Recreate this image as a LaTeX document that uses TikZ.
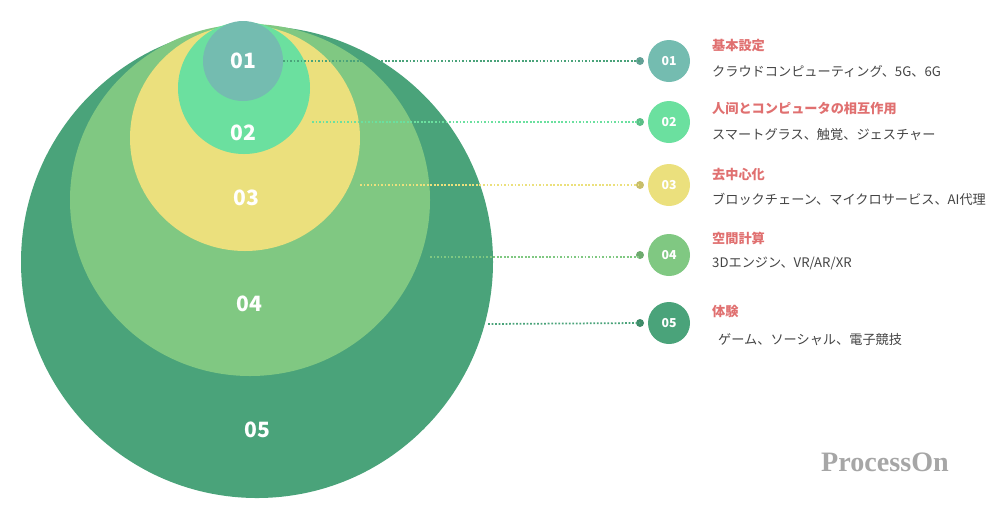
\documentclass[tikz,border=0pt]{standalone}
\usepackage{fontspec}
\setmainfont{Noto Sans CJK JP}
\newfontfamily\wmfont{Liberation Serif}
\definecolor{cA}{HTML}{74BCB0}
\definecolor{cB}{HTML}{6BE09F}
\definecolor{cC}{HTML}{EBE07D}
\definecolor{cD}{HTML}{80C882}
\definecolor{cE}{HTML}{4AA37A}
\definecolor{ttl}{HTML}{E07070}
\definecolor{sub}{HTML}{444444}
\tikzset{num/.style={text=white,font=\bfseries\fontsize{12}{14}\selectfont},
 snum/.style={circle,minimum size=0.84cm,inner sep=0pt,text=white,font=\bfseries\fontsize{7}{8}\selectfont},
 dotl/.style={densely dotted,line width=1pt},
 ttlS/.style={anchor=west,text=ttl,font=\bfseries\fontsize{7.5}{9}\selectfont},
 subS/.style={anchor=west,text=sub,font=\fontsize{7.5}{9}\selectfont}}
\begin{document}
\begin{tikzpicture}[x=0.02cm,y=-0.02cm]
\useasboundingbox (0,0) rectangle (1000,522);
\fill[cE] (257,262) circle (236);
\fill[cD] (250,200) ellipse (180 and 176);
\fill[cC] (245,138) ellipse (115 and 113);
\fill[cB] (244,88) circle (66);
\fill[cA] (243,61) circle (40);
\node[num] (n1) at (243,61) {01};
\node[num] (n2) at (243,133) {02};
\node[num] (n3) at (246,198) {03};
\node[num] (n4) at (249,304) {04};
\node[num] (n5) at (257,430) {05};
\coordinate (s1) at (283,61); \coordinate (s2) at (312,122); \coordinate (s3) at (360,185);
\coordinate (s4) at (430,257); \coordinate (s5) at (488,324);
\foreach \i/\y/\c in {1/61/cA,2/122/cB,3/185/cC,4/255/cD,5/323/cE}{
  \node[snum,fill=\c] (r\i) at (669,\y) {0\i};
  \coordinate (d\i) at (640,\y);
  \fill[\c!85!black] (d\i) circle (4);
}
\draw[dotl,cE] (s1) -- (d1);
\draw[dotl,cB] (s2) -- (d2);
\draw[dotl,cC] (s3) -- (d3);
\draw[dotl,cD] (s4) -- (d4|-s4);
\draw[dotl,cE] (s5) -- (d5);
\node[ttlS] (t1) at (706,46) {基本設定};
\node[subS] (u1) at (706,71) {クラウドコンピューティング、5G、6G};
\node[ttlS] (t2) at (706,109) {人间とコンピュータの相互作用};
\node[subS] (u2) at (706,135) {スマートグラス、触覚、ジェスチャー};
\node[ttlS] (t3) at (706,175) {去中心化};
\node[subS] (u3) at (706,199) {ブロックチェーン、マイクロサービス、AI代理};
\node[ttlS] (t4) at (706,238) {空間計算};
\node[subS] (u4) at (706,263) {3Dエンジン、VR/AR/XR};
\node[ttlS] (t5) at (706,312) {体験};
\node[subS] (u5) at (712,340) {ゲーム、ソーシャル、電子競技};
\node[text=gray!70,font=\wmfont\bfseries\fontsize{16}{18}\selectfont] (wm) at (885,462) {ProcessOn};
\end{tikzpicture}
\end{document}
